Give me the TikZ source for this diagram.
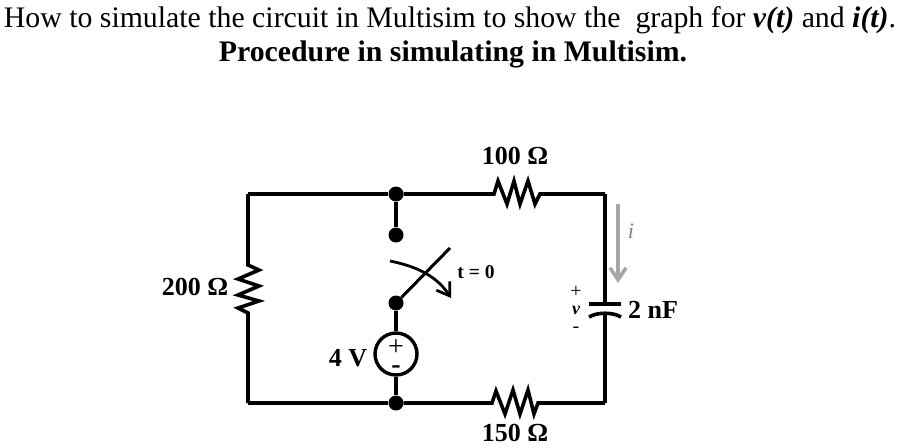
\documentclass[tikz,border=0pt]{standalone}
\usepackage{fontspec}
\setmainfont{Liberation Serif}
\usetikzlibrary{positioning,arrows.meta,calc}
\definecolor{arrowgray}{HTML}{A6A6A6}
\tikzset{
  wire/.style={line width=3.6pt, line join=miter},
  dot/.style={circle, fill=black, inner sep=0pt, minimum size=15pt},
  val/.style={font=\fontsize{26}{28}\selectfont\bfseries},
  small/.style={font=\fontsize{19.5}{21}\selectfont\bfseries}
}
\begin{document}
\begin{tikzpicture}[x=1pt,y=-1pt]
  \useasboundingbox (0,0) rectangle (901,447);
  \node[font=\fontsize{29.8}{32}\selectfont] (title) at (450,20) {How to simulate the circuit in Multisim to show the\ \ graph for \textbf{\textit{v(t)}} and \textbf{\textit{i(t)}}.};
  \node[font=\fontsize{29.8}{32}\selectfont\bfseries] (subtitle) at (453,54) {Procedure in simulating in Multisim.};
  % corners and junctions
  \coordinate (tl) at (248,194);
  \coordinate (tr) at (605,194);
  \coordinate (bl) at (248,403);
  \coordinate (br) at (605,403);
  \node[dot] (top) at (396,194) {};
  \node[dot] (upper) at (396,235) {};
  \node[dot] (lower) at (396,303) {};
  \node[dot] (bottom) at (396,403) {};
  \node[circle, draw, line width=3.4pt, minimum size=42pt, inner sep=0pt] (src) at (396,354) {};
  \node[font=\fontsize{28}{28}\selectfont, inner sep=0pt, text height=17pt, text depth=0pt] (plus) at (396,347) {+};
  \node[font=\fontsize{28}{28}\selectfont\bfseries, inner sep=0pt, text height=8pt, text depth=0pt] (minus) at (396,369) {-};
  % wires
  \draw[wire] (top) -- (upper);
  \draw[wire] (lower) -- (src);
  \draw[wire] (src) -- (bottom);
  \draw[wire] (tl) -- (top);
  \draw[wire] (bl) -- (bottom);
  % resistors
  \draw[wire] (top) -- (494,194) -- (498,181) -- (507,204) -- (514,181) -- (520,204) -- (528,181) -- (535,204) -- (540,194) -- (tr);
  \draw[wire] (bottom) -- (492,403) -- (496,391) -- (505,414) -- (513,390) -- (520,414) -- (528,390) -- (534,414) -- (538,403) -- (br);
  \draw[wire] (tl) -- (248,265) -- (259,270) -- (238,279) -- (259,286) -- (238,295) -- (259,301) -- (238,308) -- (248,313) -- (bl);
  % capacitor
  \coordinate (capt) at (605,304);
  \coordinate (capb) at (605,313);
  \draw[wire] (tr) -- (capt);
  \draw[wire] (589,304) -- (621,304);
  \draw[wire] (589,317) .. controls (597,312) and (613,312) .. (621,317);
  \draw[wire] (capb) -- (br);
  % switch
  \coordinate (blade) at (450,248);
  \draw[line width=3pt] (lower) -- (blade);
  \coordinate (sw0) at (390,261);
  \coordinate (sw1) at (451,298);
  \draw[line width=2.8pt, -{Straight Barb[length=12pt,width=16pt]}] (sw0) .. controls (420,267) and (438,278) .. (sw1);
  % current arrow
  \coordinate (i0) at (618,204);
  \coordinate (i1) at (618,283);
  \draw[arrowgray, line width=3.6pt, -{Straight Barb[length=12pt,width=16pt]}] (i0) -- (i1);
  % labels
  \node[val] (r1) at (515,156) {100 Ω};
  \node[val] (r2) at (195,287) {200 Ω};
  \node[val] (r3) at (515,433) {150 Ω};
  \node[val] (v0) at (348,358) {4 V};
  \node[val] (c0) at (653,310) {2 nF};
  \node[small] (t0) at (476,272) {t = 0};
  \node[font=\fontsize{22}{22}\selectfont\itshape, text=gray] (il) at (631,231) {i};
  \node[font=\fontsize{20}{20}\selectfont, inner sep=0pt, text height=12pt, text depth=0pt] (vp) at (576,291) {+};
  \node[font=\fontsize{18}{18}\selectfont\bfseries\itshape, inner sep=0pt] (vv) at (576,310) {v};
  \node[font=\fontsize{20}{20}\selectfont, inner sep=0pt, text height=8pt, text depth=0pt] (vm) at (576,328) {-};
\end{tikzpicture}
\end{document}
